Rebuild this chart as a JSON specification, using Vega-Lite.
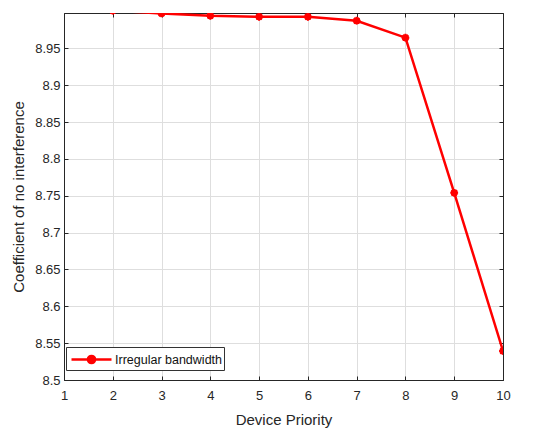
{
  "$schema": "https://vega.github.io/schema/vega-lite/v6.json",
  "autosize": {"type": "none"},
  "width": 439,
  "height": 367,
  "padding": {"left": 64, "top": 13, "right": 47, "bottom": 53},
  "background": "white",
  "data": {
    "values": [
      {"priority": 2, "coef": 9.0012, "series": "Irregular bandwidth"},
      {"priority": 3, "coef": 8.9974, "series": "Irregular bandwidth"},
      {"priority": 4, "coef": 8.9942, "series": "Irregular bandwidth"},
      {"priority": 5, "coef": 8.9929, "series": "Irregular bandwidth"},
      {"priority": 6, "coef": 8.9929, "series": "Irregular bandwidth"},
      {"priority": 7, "coef": 8.9875, "series": "Irregular bandwidth"},
      {"priority": 8, "coef": 8.9645, "series": "Irregular bandwidth"},
      {"priority": 9, "coef": 8.7540, "series": "Irregular bandwidth"},
      {"priority": 10, "coef": 8.5394, "series": "Irregular bandwidth"}
    ]
  },
  "layer": [
    {
      "mark": {"type": "line", "color": "#ff0000", "strokeWidth": 2.5, "clip": true},
      "encoding": {
        "x": {
          "field": "priority", "type": "quantitative",
          "scale": {"domain": [1, 10], "nice": false, "zero": false},
          "axis": {"title": "Device Priority", "values": [1,2,3,4,5,6,7,8,9,10], "labelPadding": 13, "titlePadding": 10}
        },
        "y": {
          "field": "coef", "type": "quantitative",
          "scale": {"domain": [8.5, 8.998], "nice": false, "zero": false},
          "axis": {"title": "Coefficient of no interference",
            "values": [8.5,8.55,8.6,8.65,8.7,8.75,8.8,8.85,8.9,8.95],
            "format": "~g", "titlePadding": 8}
        },
        "color": {
          "field": "series", "type": "nominal",
          "scale": {"range": ["#ff0000"]},
          "legend": {
            "title": null,
            "orient": "none",
            "legendX": 2,
            "legendY": 334,
            "padding": 1,
            "strokeColor": "#333333",
            "fillColor": "white",
            "symbolType": "M-2,0H2M-0.36,0A0.36,0.36 0 1,1 0.36,0A0.36,0.36 0 1,1 -0.36,0Z",
            "symbolSize": 400,
            "symbolStrokeWidth": 2.5,
            "symbolFillColor": "#ff0000",
            "symbolStrokeColor": "#ff0000",
            "symbolOffset": 13,
            "labelOffset": 12,
            "labelFontSize": 12.5,
            "labelFont": "Liberation Sans",
            "labelColor": "#111111"
          }
        }
      }
    },
    {
      "mark": {"type": "point", "shape": "circle", "filled": true, "color": "#ff0000", "size": 50, "opacity": 1, "clip": true},
      "encoding": {
        "x": {"field": "priority", "type": "quantitative", "axis": null},
        "y": {"field": "coef", "type": "quantitative", "axis": null}
      }
    },
    {
      "mark": {"type": "point", "shape": "M-1,0H1M0,-1V1M-0.7,-0.7L0.7,0.7M-0.7,0.7L0.7,-0.7", "filled": false, "color": "#ff0000", "strokeWidth": 2, "size": 60, "opacity": 1, "clip": true},
      "encoding": {
        "x": {"field": "priority", "type": "quantitative", "axis": null},
        "y": {"field": "coef", "type": "quantitative", "axis": null}
      }
    },
    {
      "mark": {"type": "rule", "opacity": 0},
      "encoding": {
        "x": {
          "field": "priority", "type": "quantitative",
          "axis": {"orient": "top", "labels": false, "title": null, "grid": false, "values": [1,2,3,4,5,6,7,8,9,10]}
        },
        "y": {
          "field": "coef", "type": "quantitative",
          "axis": {"orient": "right", "labels": false, "title": null, "grid": false,
            "values": [8.5,8.55,8.6,8.65,8.7,8.75,8.8,8.85,8.9,8.95]}
        }
      }
    }
  ],
  "resolve": {"axis": {"x": "independent", "y": "independent"}},
  "config": {
    "view": {"stroke": "#262626", "strokeWidth": 1},
    "font": "Liberation Sans",
    "axis": {
      "labelFont": "Liberation Sans",
      "titleFont": "Liberation Sans",
      "labelFontSize": 13,
      "titleFontSize": 15,
      "titleFontWeight": "normal",
      "labelColor": "#262626",
      "titleColor": "#262626",
      "domainColor": "#262626",
      "tickColor": "#262626",
      "tickSize": -4,
      "labelPadding": 8,
      "gridColor": "#dedede",
      "gridWidth": 1,
      "labelFlush": false
    }
  }
}
